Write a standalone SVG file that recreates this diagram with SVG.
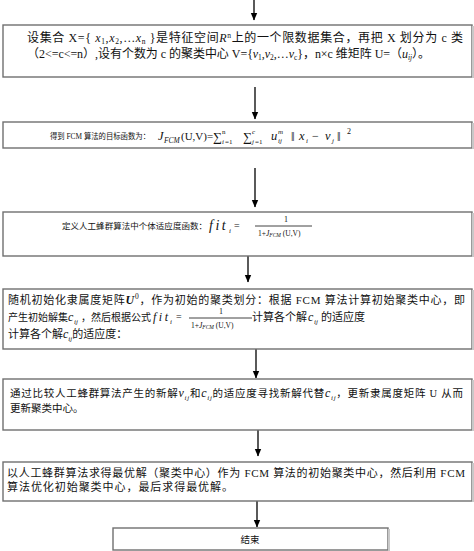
<svg xmlns="http://www.w3.org/2000/svg" width="474" height="551" viewBox="0 0 474 551">
<defs>
<marker id="ah" markerWidth="8" markerHeight="8" refX="7" refY="4" orient="auto" markerUnits="userSpaceOnUse">
<path d="M0,0.8 L7.5,4 L0,7.2 Z" fill="#000"/>
</marker>
</defs>
<style>
text{font-family:"Liberation Serif","Noto Sans CJK SC",serif;fill:#111;}
.box{fill:#fff;stroke:#707070;stroke-width:1.4;}
.sh{fill:none;stroke:#c8c8c8;stroke-width:2;}
.i{font-style:italic;}
.s{font-size:7.5px;}
.c{stroke:#000;stroke-width:1.3;fill:none;}
.fit{font-style:italic;letter-spacing:2.5px;}
</style>
<rect width="474" height="551" fill="#fff"/>
<g id="connectors">
<line class="c" x1="254" y1="0" x2="254" y2="20" marker-end="url(#ah)"/>
<line class="c" x1="255" y1="87" x2="255" y2="119" marker-end="url(#ah)"/>
<line class="c" x1="255" y1="168" x2="255" y2="207" marker-end="url(#ah)"/>
<line class="c" x1="248" y1="256" x2="248" y2="282" marker-end="url(#ah)"/>
<line class="c" x1="256" y1="349" x2="256" y2="378" marker-end="url(#ah)"/>
<line class="c" x1="258" y1="430" x2="258" y2="456" marker-end="url(#ah)"/>
<line class="c" x1="257" y1="501" x2="257" y2="527" marker-end="url(#ah)"/>
</g>
<g id="n1">
<rect class="box" x="3" y="25" width="469" height="52"/>
<line class="sh" x1="473" y1="26" x2="473" y2="78"/>
<text x="27" y="42" font-size="12" textLength="436" lengthAdjust="spacing">设集合 X={ <tspan class="i">x</tspan><tspan class="s" dy="2">1</tspan><tspan dy="-2">,</tspan><tspan class="i">x</tspan><tspan class="s" dy="2">2</tspan><tspan dy="-2">,…</tspan><tspan class="i">x</tspan><tspan class="s" dy="2">n</tspan><tspan dy="-2"> }是特征空间</tspan><tspan class="i">R</tspan><tspan class="s" dy="-4">n</tspan><tspan dy="4">上的一个限数据集合，再把 X 划分为 c 类</tspan></text>
<text x="27" y="58" font-size="12" textLength="403" lengthAdjust="spacing">（2&lt;=c&lt;=n）,设有个数为 c 的聚类中心 V={<tspan class="i">v</tspan><tspan class="s" dy="2">1</tspan><tspan dy="-2">,</tspan><tspan class="i">v</tspan><tspan class="s" dy="2">2</tspan><tspan dy="-2">,…</tspan><tspan class="i">v</tspan><tspan class="s" dy="2">c</tspan><tspan dy="-2">}，n×c 维矩阵 U=（</tspan><tspan class="i">u</tspan><tspan class="s i" dy="2">ij</tspan><tspan dy="-2">）。</tspan></text>
</g>
<g id="n2">
<rect class="box" x="3" y="122" width="469" height="26"/>
<line class="sh" x1="473" y1="123" x2="473" y2="149"/>
<text x="50" y="139" font-size="8" textLength="100" lengthAdjust="spacingAndGlyphs">得到 FCM 算法的目标函数为：</text>
<text x="158" y="140" font-size="12.5" class="i">J</text>
<text x="164" y="143" font-size="7.5" class="i">FCM</text>
<text x="181" y="140" font-size="11">(U,V)=</text>
<text x="213" y="141" font-size="12.5">∑</text>
<text x="222" y="144" font-size="7" class="i">i</text><text x="225" y="144" font-size="7">=1</text>
<text x="222" y="134" font-size="7">n</text>
<text x="243" y="141" font-size="12.5">∑</text>
<text x="252" y="144" font-size="7" class="i">j</text><text x="255" y="144" font-size="7">=1</text>
<text x="252" y="134" font-size="7" class="i">c</text>
<text x="271" y="140" font-size="12.5" class="i">u</text>
<text x="278" y="143" font-size="7" class="i">ij</text>
<text x="278" y="134" font-size="7" class="i">m</text>
<text x="291" y="141" font-size="13">‖</text>
<text x="299" y="140" font-size="12.5" class="i">x</text>
<text x="306" y="143" font-size="7" class="i">i</text>
<text x="312" y="140" font-size="12">−</text>
<text x="325" y="140" font-size="12.5" class="i">v</text>
<text x="332" y="143" font-size="7" class="i">j</text>
<text x="337" y="141" font-size="13">‖</text>
<text x="347" y="134" font-size="8">2</text>
</g>
<g id="n3">
<rect class="box" x="3" y="212" width="469" height="44"/>
<line class="sh" x1="473" y1="213" x2="473" y2="257"/>
<text x="62" y="229" font-size="8.5" textLength="145" lengthAdjust="spacing">定义人工蜂群算法中个体适应度函数：</text>
<text x="209" y="230" font-size="14" class="fit">fit</text>
<text x="229" y="233" font-size="7" class="i">i</text>
<text x="234" y="229" font-size="10">=</text>
<line x1="255" y1="226" x2="312" y2="226" stroke="#111" stroke-width="0.8"/>
<text x="284" y="222" font-size="8">1</text>
<text x="258" y="236" font-size="7.5">1+<tspan class="i">J</tspan><tspan class="i" font-size="5.5" dy="1">FCM</tspan><tspan dy="-1"> (U,V)</tspan></text>
</g>
<g id="n4">
<rect class="box" x="3" y="289" width="469" height="60"/>
<line class="sh" x1="473" y1="290" x2="473" y2="350"/>
<text x="8" y="304" font-size="11" textLength="457" lengthAdjust="spacing">随机初始化隶属度矩阵<tspan class="i" font-weight="bold" font-size="12">U</tspan><tspan font-size="7.5" dy="-5">0</tspan><tspan dy="5">，作为初始的聚类划分：根据 FCM 算法计算初始聚类中心，即</tspan></text>
<text x="8" y="321" font-size="10">产生初始解集</text>
<text x="68" y="321" font-size="12" class="i">c</text><text x="74" y="324" font-size="7" class="i">ij</text>
<text x="81" y="321" font-size="10">，然后根据公式</text>
<text x="153" y="321" font-size="12" class="fit">fit</text><text x="170" y="324" font-size="7" class="i">i</text>
<text x="176" y="320" font-size="10">=</text>
<line x1="189" y1="318" x2="252" y2="318" stroke="#111" stroke-width="0.8"/>
<text x="219" y="314" font-size="8">1</text>
<text x="191" y="328" font-size="7.5">1+<tspan class="i">J</tspan><tspan class="i" font-size="5.5" dy="1">FCM</tspan><tspan dy="-1"> (U,V)</tspan></text>
<text x="252" y="321" font-size="11">计算各个解</text>
<text x="308" y="321" font-size="12" class="i">c</text><text x="314" y="324" font-size="7" class="i">ij</text>
<text x="321" y="321" font-size="11">的适应度</text>
<text x="8" y="338" font-size="11">计算各个解<tspan class="i" font-size="12">c</tspan><tspan class="i" font-size="7" dy="3">ij</tspan><tspan dy="-3">的适应度：</tspan></text>
</g>
<g id="n5">
<rect class="box" x="3" y="379" width="469" height="51"/>
<line class="sh" x1="473" y1="380" x2="473" y2="431"/>
<text x="10" y="397" font-size="10.5" textLength="453" lengthAdjust="spacing">通过比较人工蜂群算法产生的新解<tspan class="i" font-size="12">v</tspan><tspan class="i" font-size="7" dy="3">ij</tspan><tspan dy="-3">和</tspan><tspan class="i" font-size="12">c</tspan><tspan class="i" font-size="7" dy="3">ij</tspan><tspan dy="-3">的适应度寻找新解代替</tspan><tspan class="i" font-size="12">c</tspan><tspan class="i" font-size="7" dy="3">ij</tspan><tspan dy="-3">，更新隶属度矩阵 U 从而</tspan></text>
<text x="10" y="412" font-size="10.5">更新聚类中心。</text>
</g>
<g id="n6">
<rect class="box" x="3" y="462" width="469" height="39"/>
<line class="sh" x1="473" y1="463" x2="473" y2="502"/>
<text x="7" y="477" font-size="11" textLength="458" lengthAdjust="spacing">以人工蜂群算法求得最优解（聚类中心）作为 FCM 算法的初始聚类中心，然后利用 FCM</text>
<text x="7" y="491" font-size="11" textLength="226" lengthAdjust="spacing">算法优化初始聚类中心，最后求得最优解。</text>
</g>
<g id="n7">
<rect class="box" x="113" y="528" width="275" height="22"/>
<line class="sh" x1="389" y1="529" x2="389" y2="551"/>
<text x="250" y="543" font-size="9.5" text-anchor="middle">结束</text>
</g>
</svg>
